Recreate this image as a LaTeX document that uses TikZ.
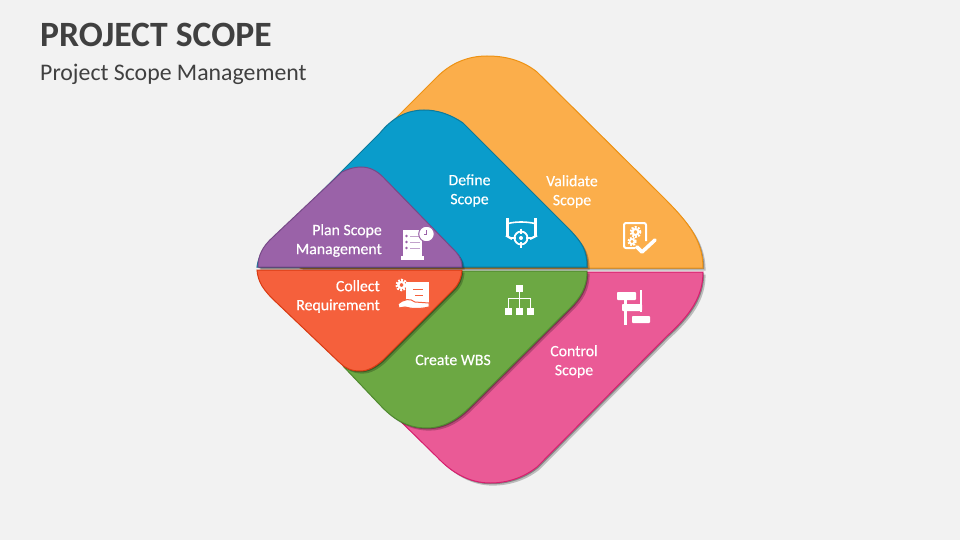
\documentclass[tikz,border=0pt]{standalone}
\usepackage{fontspec}
\setmainfont{Carlito}
\newfontfamily\labelfont[FakeBold=0.35]{Carlito}
\usetikzlibrary{shadows}
\definecolor{pageBg}{HTML}{F2F2F2}
\definecolor{titleInk}{HTML}{404040}
\definecolor{orangeFill}{HTML}{FBAE4B}
\definecolor{orangeEdge}{HTML}{EE9213}
\definecolor{blueFill}{HTML}{0A9CCB}
\definecolor{blueEdge}{HTML}{0B7A9C}
\definecolor{purpleFill}{HTML}{9A62A8}
\definecolor{purpleEdge}{HTML}{774A88}
\definecolor{redFill}{HTML}{F5603C}
\definecolor{redEdge}{HTML}{D93A12}
\definecolor{greenFill}{HTML}{6CA843}
\definecolor{greenEdge}{HTML}{4F8A2F}
\definecolor{pinkFill}{HTML}{EA5A96}
\definecolor{pinkEdge}{HTML}{D81E6E}
\tikzset{
  softshadow/.style={drop shadow={shadow xshift=1.2pt,shadow yshift=-1.2pt,opacity=.3,fill=black},
    drop shadow={shadow xshift=2.6pt,shadow yshift=-2.6pt,opacity=.22,fill=black}},
  petal/.style n args={2}{fill=#1,draw=#2,line width=1pt,softshadow},
  label/.style={text=white,font=\labelfont\fontsize{15.8}{19}\selectfont},
  icon/.style={fill=white,draw=none},
  iconline/.style={draw=white,line width=1.6pt},
}
\newcommand{\cogwheel}[3]{%
\draw[white,line width=#2*0.5pt,dash pattern=on 1.8pt off 1.3pt](#1)circle[radius=#2*1.0pt];
\draw[white,line width=#2*0.42pt,fill=#3](#1)circle[radius=#2*0.62pt];
}
\begin{document}
\begin{tikzpicture}[x=1pt,y=-1pt]
\useasboundingbox(0,0)rectangle(960,540);
\fill[pageBg](0,0)rectangle(960,540);
\node[anchor=base west,inner sep=0pt,text=titleInk,font=\fontsize{35.6}{38}\selectfont\bfseries](title)at(40,46.5){PROJECT SCOPE};
\node[anchor=base west,inner sep=0pt,text=titleInk,font=\fontsize{23.8}{26}\selectfont](subtitle)at(40,81){Project Scope Management};
% upper and lower outer petals
\draw[petal={orangeFill}{orangeEdge}](703,268).. controls (703,240) and (688,222) .. (662,196)--(537,72)
  .. controls (522,60) and (505,56) .. (487,56).. controls (468,56) and (451,63) .. (437,77)
  --(300,214)--(300,268)--cycle;
\draw[petal={pinkFill}{pinkEdge}](703,272).. controls (703,297) and (690,315) .. (667,336)--(537,467)
  .. controls (523,478) and (507,483) .. (490,483).. controls (470,483) and (452,473) .. (437,457)
  --(387,408)--(387,272)--cycle;
% middle petals
\draw[petal={blueFill}{blueEdge}](587,267).. controls (587,250) and (582,243) .. (570,230)--(463,123)
  .. controls (450,114) and (437,110) .. (424,110).. controls (408,110) and (393,117) .. (380,133)
  --(270,243).. controls (262,251) and (258,258) .. (257,267)--cycle;
\draw[petal={greenFill}{greenEdge}](587,271).. controls (587,288) and (580,298) .. (570,308)--(470,407)
  .. controls (456,421) and (442,428) .. (427,428).. controls (408,428) and (394,420) .. (380,405)
  --(343,366)--(343,271)--cycle;
% inner petals
\draw[petal={purpleFill}{purpleEdge}](462,267).. controls (462,262) and (461,258) .. (456,252)--(383,177)
  .. controls (376,170) and (369,167) .. (361,167).. controls (354,167) and (348,169) .. (342,172)
  --(273,237).. controls (262,247) and (258,256) .. (258,267)--cycle;
\draw[petal={redFill}{redEdge}](462,270).. controls (461,279) and (459,284) .. (453,290)--(383,360)
  .. controls (375,367) and (368,371) .. (360,371).. controls (351,371) and (345,368) .. (340,363)
  --(277,303).. controls (263,290) and (258,282) .. (257,270)--cycle;
% texts
\node[label,align=center](define)at(469.5,190.5){Define\\Scope};
\node[label,align=center](validate)at(572,191.5){Validate\\Scope};
\node[label,align=right,anchor=east,inner sep=0pt](plan)at(382,240.5){Plan Scope\\Management};
\node[label,align=right,anchor=east,inner sep=0pt](collect)at(380,296.5){Collect\\Requirement};
\node[label](wbs)at(453,360){Create WBS};
\node[label,align=center](control)at(574,361.5){Control\\Scope};
% plan icon
\fill[icon](403,230)rectangle(422,256);
\fill[icon](401,256)rectangle(424,260);
\foreach \yy in {236,242,248}{
\fill[purpleFill](406.5,\yy)circle[radius=1.3pt];
\draw[purpleFill!60!white,line width=1pt](410,\yy)--(420,\yy);
}
\draw[fill=white,draw=purpleFill,line width=1pt](426.5,234)circle[radius=7.8pt];
\draw[purpleFill,line width=.8pt](426.5,230)--(426.5,234.5)--(423.5,234.5);
% collect icon
\fill[icon](406,282)rectangle(429,304);
\draw[redFill,line width=.9pt](413,289)--(423,289);
\draw[redFill,line width=.9pt](415,295)--(423,295);
\cogwheel{401.5,285}{5}{redFill}
\draw[icon,draw=redFill,line width=1pt](398,304).. controls (404,299) and (410,298) .. (415,302)--(429,303)--(429,307)
  .. controls (420,309) and (412,309) .. (405,307)--(399,308)--cycle;
% define icon
\fill[icon](506,218)rectangle(509,236);
\fill[icon](534,218)rectangle(537,236);
\draw[iconline](508,223.5).. controls (516,221.5) and (526,221.5) .. (535,223.5);
\draw[iconline,line width=2.2pt](506,235.5)--(512,239)(530,239)--(537,235.5);
\draw[white,line width=1.8pt](521,238)circle[radius=6.5pt];
\fill[white](521,238)circle[radius=2pt];
\draw[white,line width=1.2pt](521,228.5)--(521,234)(521,242)--(521,248)(511,238)--(516,238)(526,238)--(531,238);
% validate icon
\draw[white,line width=2pt,rounded corners=2pt](636,248)--(624,248)--(624,223)--(646,223)--(646,241);
\cogwheel{635.5,232}{4.8}{orangeFill}
\cogwheel{632,241.5}{3.8}{orangeFill}
\draw[orangeFill,line width=7pt](637,247)--(642,252)--(655,240);
\draw[white,line width=3.6pt,line cap=round,line join=round](637,247)--(642,252)--(655,240);
% wbs icon
\foreach \xx in {505,516,527}{\fill[icon](\xx,308)rectangle(\xx+7,315);}
\fill[icon](516,285)rectangle(523,292);
\draw[iconline,line width=1pt](519.5,292)--(519.5,308)(508.5,308)--(508.5,298)--(530.5,298)--(530.5,308);
% control icon
\fill[icon](640,290)rectangle(642,312);
\fill[icon](624,300)rectangle(626.5,325);
\fill[icon,rounded corners=.8pt](617,292)rectangle(636,300);
\fill[icon,rounded corners=.8pt](622,304)rectangle(642,311);
\fill[icon,rounded corners=.8pt](632,316)rectangle(650,323);
\end{tikzpicture}
\end{document}
